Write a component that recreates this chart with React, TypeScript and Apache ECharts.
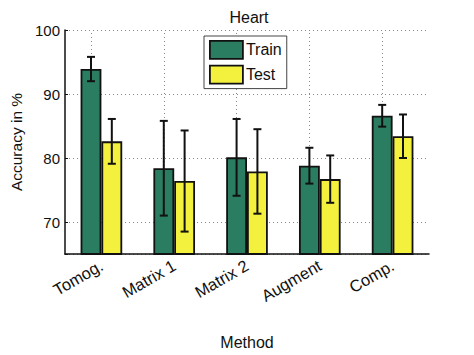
import React, { useEffect, useRef } from "react";
import * as echarts from "echarts";

const categories = ["Tomog.", "Matrix 1", "Matrix 2", "Augment", "Comp."];
const trainValues = [93.9, 78.4, 80.1, 78.8, 86.6];
const trainErrors = [1.9, 7.4, 6.0, 2.8, 1.7];
const testValues = [82.6, 76.4, 77.9, 76.7, 83.4];
const testErrors = [3.5, 7.9, 6.6, 3.7, 3.4];
const yTicks = [70, 80, 90, 100];

const FONT = "Liberation Sans, Arial, Helvetica, sans-serif";
const GREEN = "#2a7d60";
const YELLOW = "#f3f03e";
const BAR_FRAC = 0.286;

export default function App() {
  const ref = useRef<HTMLDivElement>(null);
  useEffect(() => {
    if (!ref.current) return;
    const chart = echarts.init(ref.current, undefined, { renderer: "svg" });

    const errData = (vals: number[], errs: number[]) =>
      vals.map((v, i) => [i, v - errs[i], v + errs[i]]);

    const makeErr = (name: string, vals: number[], errs: number[], side: number) => ({
      type: "custom",
      name: name + "-err",
      data: errData(vals, errs),
      encode: { x: 0, y: [1, 2] },
      z: 5,
      silent: true,
      renderItem: (params: any, api: any) => {
        const band = api.size([1, 0])[0];
        const off = (side * band * BAR_FRAC) / 2;
        const lo = api.coord([api.value(0), api.value(1)]);
        const hi = api.coord([api.value(0), api.value(2)]);
        const x = lo[0] + off;
        const cap = 4;
        const style = { stroke: "#111", lineWidth: 2, fill: "none" };
        return {
          type: "group",
          children: [
            { type: "line", shape: { x1: x, y1: lo[1], x2: x, y2: hi[1] }, style },
            { type: "line", shape: { x1: x - cap, y1: lo[1], x2: x + cap, y2: lo[1] }, style },
            { type: "line", shape: { x1: x - cap, y1: hi[1], x2: x + cap, y2: hi[1] }, style },
          ],
        };
      },
    });

    const option: any = {
      animation: false,
      backgroundColor: "#fff",
      title: {
        text: "Heart",
        left: 244,
        textAlign: "center",
        top: 4,
        textStyle: { fontFamily: FONT, fontSize: 16, fontWeight: "normal", color: "#111" },
      },
      legend: {
        data: ["Train", "Test"],
        orient: "vertical",
        left: 204,
        top: 36,
        itemWidth: 33,
        itemHeight: 18,
        itemGap: 5,
        padding: [4, 5, 4, 5],
        borderColor: "#444",
        borderWidth: 1,
        backgroundColor: "#fff",
        icon: "rect",
        textStyle: { fontFamily: FONT, fontSize: 16, color: "#111", padding: [0, 0, 0, -2] },
        itemStyle: { borderColor: "#111", borderWidth: 1.8 },
      },
      grid: { left: 62, right: 45, top: 30, bottom: 92 },
      xAxis: {
        type: "category",
        data: categories,
        name: "Method",
        nameLocation: "middle",
        nameGap: 80,
        nameTextStyle: { fontFamily: FONT, fontSize: 16, color: "#111" },
        axisLine: { lineStyle: { color: "#111", width: 1.5 } },
        axisTick: { show: false },
        axisLabel: {
          rotate: 30,
          margin: 10,
          fontFamily: FONT,
          fontSize: 16.5,
          color: "#111",
        },
        splitLine: { show: false },
      },
      yAxis: {
        type: "value",
        min: 65,
        max: 100,
        splitNumber: 4,
        name: "Accuracy in %",
        nameLocation: "middle",
        nameGap: 41,
        nameTextStyle: { fontFamily: FONT, fontSize: 15.5, color: "#111" },
        axisLine: { show: true, lineStyle: { color: "#111", width: 1.5 } },
        axisTick: { show: true, inside: true, length: 3, lineStyle: { color: "#111" } },
        axisLabel: {
          fontFamily: FONT,
          fontSize: 15,
          color: "#111",
          margin: 5,
          formatter: (v: number) => (yTicks.includes(v) ? String(v) : ""),
        },
        splitLine: { show: true, lineStyle: { color: "#888", type: [1, 3], width: 1 } },
      },
      series: [
        {
          name: "Train",
          type: "bar",
          data: trainValues,
          barWidth: BAR_FRAC * 100 + "%",
          barGap: "0%",
          itemStyle: { color: GREEN, borderColor: "#111", borderWidth: 1.8 },
          markLine: {
            silent: true,
            symbol: "none",
            label: { show: false },
            lineStyle: { color: "#888", type: [1, 3], width: 1 },
            data: categories.map((c) => ({ xAxis: c })),
            z: 0,
          },
        },
        {
          name: "Test",
          type: "bar",
          data: testValues,
          barWidth: BAR_FRAC * 100 + "%",
          barGap: "0%",
          itemStyle: { color: YELLOW, borderColor: "#111", borderWidth: 1.8 },
        },
        makeErr("Train", trainValues, trainErrors, -1),
        makeErr("Test", testValues, testErrors, 1),
      ],
    };
    chart.setOption(option);
    return () => chart.dispose();
  }, []);
  return <div ref={ref} style={{ width: 474, height: 355, position: "absolute", left: 0, top: 0 }} />;
}
